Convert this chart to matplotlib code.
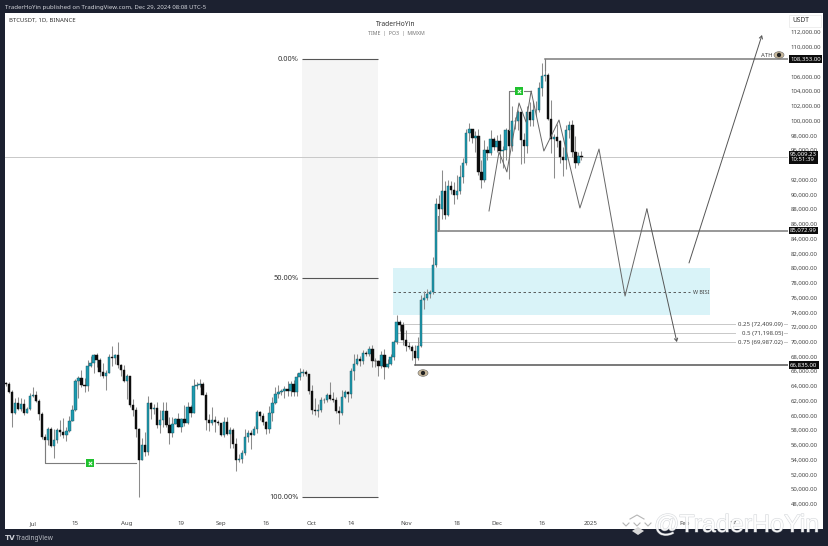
import numpy as np
import matplotlib
matplotlib.use("Agg")
import matplotlib.pyplot as plt
import matplotlib.patheffects as pe
from matplotlib.patches import Rectangle, Ellipse

W, H = 829, 546
DARK = "#1c2130"
UP = "#1d9bb0"
DOWN = "#0d0d0d"
WICK = "#8c8c8c"
FONT = "Noto Sans"

# day index: 0 is 1 Jul 2024, first candle is 22 Jun 2024
first_day = -9
closes = [64.25,63.18,60.28,61.75,60.84,61.61,60.32,60.89,62.68,
 62.77,62.03,60.2,57.04,56.64,58.23,55.86,56.71,58.05,57.72,57.34,57.89,59.2,60.79,64.72,65.04,64.09,63.99,66.66,67.15,68.17,67.55,65.93,65.37,65.78,67.9,67.81,68.25,66.78,66.19,64.62,
 65.35,61.42,60.68,58.12,53.99,56.03,55.03,61.71,60.88,60.95,58.71,59.35,60.6,58.74,57.56,58.87,59.48,58.44,59.49,59.01,61.16,60.38,64.04,64.16,64.22,62.83,59.42,59.03,59.37,59.12,58.97,
 57.3,59.13,57.49,57.97,56.16,53.95,54.16,54.87,57.05,57.65,57.34,58.13,60.5,59.99,59.13,58.21,60.31,61.76,62.95,63.2,63.35,63.58,63.34,64.26,63.14,65.18,65.79,65.89,65.6,63.33,
 60.8,60.65,60.75,62.08,62.09,62.82,62.22,62.13,60.58,60.27,62.45,63.19,62.85,66.05,67.04,67.61,67.37,68.43,68.36,69.0,67.37,67.36,66.68,68.16,66.6,67.01,67.96,69.9,72.7,72.33,70.2,
 69.48,69.33,68.75,67.8,69.36,75.64,75.9,76.54,76.68,80.37,88.65,87.95,90.38,87.25,91.07,90.6,89.85,90.46,92.31,94.29,98.35,98.9,97.67,97.9,93.0,91.98,95.95,95.65,97.46,96.41,
 97.19,95.84,96.0,98.77,96.6,99.92,99.92,101.17,97.36,96.59,101.12,100.0,101.42,101.42,104.46,106.06,106.13,100.2,97.46,97.76,97.22,95.1,94.69,98.68,99.43,95.79,94.17,95.16,95.01]
highs = [64.5,64.5,63.4,62.4,62.5,62.4,62.2,61.2,63.0,
 63.8,63.3,62.3,60.5,57.5,58.5,58.4,58.2,58.3,59.4,59.6,58.5,59.9,61.4,65.0,65.4,66.1,65.1,67.5,68.0,68.4,68.5,67.8,67.1,66.1,68.3,69.4,68.3,70.0,67.0,66.8,
 65.6,65.0,62.2,61.1,58.3,57.0,57.7,62.7,61.8,61.5,61.8,60.7,61.8,61.8,59.8,59.8,59.7,60.3,59.6,61.4,61.8,61.4,64.9,64.5,65.0,64.5,63.2,60.2,61.2,59.9,59.4,
 59.0,59.8,59.8,58.5,58.3,57.0,54.8,55.3,58.1,58.0,58.0,58.6,60.7,60.6,60.4,59.2,61.3,62.5,63.9,64.1,63.6,64.0,64.7,64.7,64.8,65.8,66.5,66.3,66.1,65.6,
 64.1,62.4,61.5,62.5,62.4,63.0,64.5,63.2,62.5,61.3,63.4,63.5,63.3,66.5,68.4,68.4,68.0,68.9,68.7,69.4,69.5,67.8,67.5,68.8,69.0,67.7,68.3,70.2,73.6,72.9,72.7,
 71.6,70.0,69.5,69.5,70.6,76.4,76.9,77.2,77.0,81.5,89.5,89.9,93.3,91.8,91.9,91.8,91.7,92.6,94.0,94.9,98.9,99.6,98.6,98.6,98.9,94.7,97.3,96.6,98.7,97.8,
 98.0,98.2,96.5,99.0,104.0,102.0,100.5,101.4,101.2,98.3,101.9,102.5,102.6,102.6,105.2,107.8,108.35,106.5,102.8,98.2,99.5,97.4,96.4,99.4,99.9,100.0,97.9,95.7,95.8]
lows = [64.0,63.0,58.4,60.2,60.7,60.6,60.0,60.3,60.7,
 62.5,61.8,59.4,56.8,53.5,56.0,55.7,54.3,56.3,57.2,56.9,56.5,57.7,59.2,60.6,62.4,63.9,63.2,63.3,66.6,65.7,66.6,65.4,65.1,63.4,65.7,66.7,67.0,66.5,65.3,64.5,
 62.3,61.2,59.9,57.1,49.0,53.9,54.5,54.7,59.5,60.2,58.3,57.6,58.4,58.4,56.1,57.1,58.8,58.4,57.8,58.6,58.8,59.8,60.3,63.6,63.8,62.8,58.0,57.9,58.7,57.8,58.7,
 57.2,57.1,57.4,55.6,55.6,52.5,53.7,53.6,54.6,56.4,55.5,57.3,57.6,59.4,58.7,57.5,57.6,59.2,61.6,62.4,62.8,62.4,62.7,62.7,62.7,62.7,64.8,65.4,65.4,62.9,
 60.2,60.0,59.8,60.5,61.7,61.8,62.1,61.8,60.3,58.9,60.0,62.4,61.8,62.4,64.8,66.8,66.7,67.0,68.0,68.1,66.6,66.6,65.3,66.4,65.0,66.5,66.8,67.5,69.7,71.4,69.6,
 68.8,69.0,67.5,66.835,67.5,69.3,74.4,75.6,75.9,76.5,80.2,85.1,86.6,86.7,87.1,90.1,88.7,89.4,90.0,91.5,94.0,97.2,97.0,95.7,92.6,90.8,91.7,94.6,95.3,96.0,
 95.7,94.3,93.6,94.7,92.1,95.9,98.8,98.7,94.1,94.2,95.6,99.3,99.2,100.6,101.2,103.3,105.3,100.0,95.6,92.2,96.4,94.2,92.5,93.4,97.6,95.1,93.5,94.0,94.6]

time_ticks = [0, 14, 31, 49, 62, 77, 92, 105, 123, 140, 153, 168, 184, 215, 231]
time_labels = ["Jul","15","Aug","19","Sep","16","Oct","14","Nov","18","Dec","16","2025","Feb","17"]
bold_time_labels = ["2025"]
price_ticks = [p for p in range(48000, 113000, 2000) if p not in (94000, 108000)]

ath_price = 108353.0
range_low_price = 66835.0
mid_price = 85072.99
last_price = 95009.23
fib_prices = [ath_price, 78676.5, 49000.0]
fib_labels = ["0.00%", "50.00%", "100.00%"]
bisi_low, bisi_high, bisi_mid = 73630, 80000, 76800
ote_prices = [72409.09, 71198.05, 69987.02]
ote_labels = ["0.25 (72,409.09)", "0.5 (71,198.05)", "0.75 (69,987.02)"]
zig_days = [150.5,153.8,156.4,160.4,162.7,164.4,168.6,173.6,180.5,186.8,195.4,202.6,212.5]
zig_prices = [87730,95730,93020,102370,99800,104000,95860,100070,88130,96130,76200,88000,69960]
rise_days = [216.5, 240.6]
rise_prices = [80680, 111590]

def day_of(px):
    return (px - 33) / 3.03
def price_of(py):
    return 112000 - (py - 32) * 135.6

fig = plt.figure(figsize=(W/100, H/100), dpi=100, facecolor=DARK)
fig.add_artist(Rectangle((5/W, 1-529/H), 818/W, 516/H, transform=fig.transFigure, fc="white", ec="none", zorder=-5))
ax = fig.add_axes([5/W, 1-516/H, 783/W, 503/H], facecolor="none")
ax.set_xlim(day_of(5), day_of(788))
ax.set_ylim(price_of(516), price_of(13))
for s in ax.spines.values():
    s.set_visible(False)

# premium range and imbalance zones
ax.add_patch(Rectangle((day_of(302), fib_prices[2]), day_of(378)-day_of(302), fib_prices[0]-fib_prices[2], fc="#f5f5f5", ec="none", zorder=0))
ax.add_patch(Rectangle((day_of(393), bisi_low), day_of(710)-day_of(393), bisi_high-bisi_low, fc="#d9f3f8", ec="none", zorder=0))
ax.hlines(fib_prices, day_of(302), day_of(378), color="#555555", lw=0.8, zorder=1)
for p, t in zip(fib_prices, fib_labels):
    ax.text(day_of(299), p, t, ha="right", va="center_baseline", fontsize=5.3, color="#333333", family=FONT)

# reference levels
ax.axhline(last_price, color="#c8c8c8", lw=0.7, zorder=1)
ax.plot([day_of(393), day_of(690)], [bisi_mid]*2, color="#444444", lw=0.6, ls=(0, (3, 3)), zorder=2)
ax.text(day_of(693), bisi_mid, "W BISI", ha="left", va="center_baseline", fontsize=3.9, color="#444444", family=FONT)
for p, t in zip(ote_prices, ote_labels):
    ax.plot([day_of(396), day_of(735)], [p, p], color="#c8c8c8", lw=0.7, zorder=1)
    ax.plot([day_of(784), day_of(787)], [p, p], color="#c8c8c8", lw=0.7, zorder=1)
    ax.text(day_of(783), p, t, ha="right", va="center_baseline", fontsize=4.4, color="#444444", family=FONT)

# candles
n = len(closes)
days = np.arange(first_day, first_day + n)
c = np.array(closes) * 1000
h = np.array(highs) * 1000
l = np.array(lows) * 1000
o = np.r_[c[0] + 200, c[:-1]]
up = c >= o
ax.vlines(days, l, h, color=WICK, lw=0.75, zorder=3)
ax.bar(days[up], (c-o)[up], bottom=o[up], width=0.78, color=UP, edgecolor="#17505c", lw=0.3, zorder=4)
ax.bar(days[~up], (o-c)[~up], bottom=c[~up], width=0.78, color=DOWN, edgecolor=DOWN, lw=0.3, zorder=4)

# drawn levels
LINE = "#7c7c7c"
ax.plot([169, day_of(788)], [ath_price]*2, color=LINE, lw=1.1, zorder=5)
ax.plot([169, 169], [ath_price, 106900], color=LINE, lw=0.8, zorder=5)
ax.plot([133.5, day_of(788)], [mid_price]*2, color=LINE, lw=1.1, zorder=5)
ax.plot([133.5, 133.5], [mid_price, 87000], color=LINE, lw=0.8, zorder=5)
ax.plot([126, day_of(788)], [range_low_price]*2, color="#555555", lw=1.1, zorder=5)
ax.plot([4, 4, day_of(84)], [56700, 53500, 53500], color=LINE, lw=0.8, zorder=5)
ax.plot([day_of(96), day_of(136)], [53500]*2, color=LINE, lw=0.8, zorder=5)
ax.plot([157, 157, day_of(515)], [98700, 104000, 104000], color=LINE, lw=0.8, zorder=5)
ax.plot([day_of(524), day_of(531)], [104000]*2, color=LINE, lw=0.8, zorder=5)

# projected path
ax.plot(zig_days[:-1], zig_prices[:-1], color="#666666", lw=0.7, zorder=6)
ax.annotate("", xy=(zig_days[-1], zig_prices[-1]), xytext=(zig_days[-2], zig_prices[-2]),
            arrowprops=dict(arrowstyle="->,head_width=0.12,head_length=0.2", color="#555555", lw=0.7, shrinkA=0, shrinkB=0), zorder=6)
ax.annotate("", xy=(rise_days[1], rise_prices[1]), xytext=(rise_days[0], rise_prices[0]),
            arrowprops=dict(arrowstyle="->,head_width=0.12,head_length=0.2", color="#555555", lw=0.7, shrinkA=0, shrinkB=0), zorder=6)

# green target icons and eyes
for dx, py in [(day_of(90), 53500), (day_of(519.5), 104000)]:
    ax.scatter([dx], [py], marker="s", s=26, color="#1fc12e", zorder=7, linewidths=0)
    ax.scatter([dx], [py], marker="x", s=6, color="white", zorder=8, linewidths=0.7)
for dx, py in [(day_of(423), price_of(373)), (day_of(779), price_of(55))]:
    ax.add_patch(Ellipse((dx, py), 3.3, 900, fc="#c9b99c", ec="#666666", lw=0.4, zorder=7))
    ax.add_patch(Ellipse((dx, py), 1.4, 600, fc="#222222", ec="none", zorder=8))
ax.text(day_of(767), price_of(55), "ATH", ha="center", va="center_baseline", fontsize=4.3, color="#444444", family=FONT)

# axes
ax.yaxis.tick_right()
ax.set_yticks(price_ticks)
ax.set_yticklabels([f"{p:,.2f}" for p in price_ticks], fontsize=4.3, color="#444444", family=FONT)
ax.set_xticks(time_ticks)
ax.set_xticklabels(time_labels, fontsize=4.4, color="#444444", family=FONT)
for t in ax.get_xticklabels():
    if t.get_text() in bold_time_labels:
        t.set_fontweight("bold")
ax.tick_params(axis="both", length=0, pad=2.0)
ax.tick_params(axis="x", pad=3.5)

# price tags
tr = ax.get_yaxis_transform()
for p, t in [(ath_price, "108,353.00"), (mid_price, "85,072.99"), (range_low_price, "66,835.00"), (last_price, "95,009.23\n10:51:39")]:
    ax.text(1.0025, p, t, transform=tr, ha="left", va="center", fontsize=4.3, color="white", family=FONT,
            linespacing=1.05, bbox=dict(fc="#0c0c0c", ec="#0c0c0c", pad=1.0, lw=0), zorder=9, clip_on=False)

# page text
def ftext(px, py, s, **kw):
    fig.text(px/W, 1-py/H, s, family=kw.pop("family", FONT), **kw)
ftext(5, 7, "TraderHoYin published on TradingView.com, Dec 29, 2024 08:08 UTC-5", fontsize=4.35, color="#d5d7dd", va="center")
ftext(9, 20.5, "BTCUSDT, 1D, BINANCE", fontsize=4.3, color="#333333", va="center")
ftext(396, 24, "TraderHoYin", fontsize=4.8, color="#333333", va="center", ha="center")
ftext(396, 33.5, "TIME  |  PO3  |  MMXM", fontsize=3.8, color="#777777", va="center", ha="center")
fig.add_artist(Rectangle((789/W, 1-27/H), 32/W, 12/H, transform=fig.transFigure, fc="white", ec="#e8e8e8", lw=0.5))
ftext(801, 21, "USDT", fontsize=4.8, color="#333333", va="center", ha="center")
ftext(5, 538, "TV", fontsize=5.2, color="#cfd2d8", va="center", fontweight="bold", family="DejaVu Sans")
ftext(16, 538, "TradingView", fontsize=4.7, color="#b8bbc2", va="center")

# watermark
wm = fig.text(654/W, 1-525/H, "@TraderHoYin", fontsize=18, color="white", va="center", family="Liberation Sans", alpha=0.9, zorder=20)
wm.set_path_effects([pe.withStroke(linewidth=0.8, foreground="#b5bac0", alpha=0.55)])
wmk = fig.add_axes([0, 0, 1, 1], facecolor="none", zorder=19)
wmk.set_xlim(0, W); wmk.set_ylim(H, 0); wmk.axis("off")
for x0 in (626, 637, 648):
    wmk.plot([x0-3, x0, x0+3], [523, 526, 523], color="#b5b5b5", lw=0.8)
wmk.plot([630, 637, 644], [519, 515, 519], color="#b5b5b5", lw=0.8)
wmk.fill([632, 638, 644, 638], [531, 527, 531, 535], color="#d8d8d8", lw=0)

fig.savefig("out.png", dpi=100, facecolor=DARK)
